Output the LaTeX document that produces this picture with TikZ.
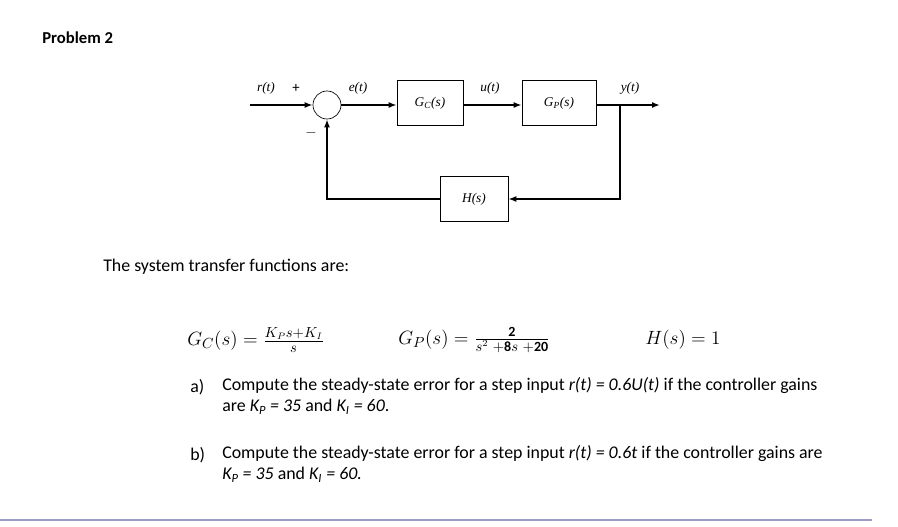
\documentclass[tikz,border=0pt]{standalone}
\usepackage{fontspec}
\setmainfont{Carlito}
\newfontfamily\dgfont{Liberation Serif}
\usetikzlibrary{arrows.meta}
\begin{document}
\begin{tikzpicture}[x=0.75pt,y=-0.75pt,
  blk/.style={draw,line width=0.5pt,minimum width=#1*0.75pt,minimum height=34pt,font=\dgfont\fontsize{10}{10}\selectfont\itshape,inner sep=0pt},
  sig/.style={line width=1.3pt,-{Latex[length=6pt,width=4.5pt]}},
  lbl/.style={font=\dgfont\fontsize{10}{10}\selectfont\itshape,inner sep=0pt},
  txt/.style={font=\fontsize{13.4}{16}\selectfont,anchor=west,inner sep=0pt,align=left}]
\useasboundingbox (0,0) rectangle (898,526);
\node[txt,font=\fontsize{12.5}{15}\selectfont\bfseries] (title) at (42,38) {Problem 2};
\node[draw,circle,minimum size=21pt,inner sep=0pt,line width=0.5pt] (sum) at (327,105) {};
\coordinate (in) at (250,105);
\node[blk=66] (gc) at (430,103) {G\textsubscript{C}(s)};
\node[blk=74] (gp) at (559,103) {G\textsubscript{P}(s)};
\node[blk=68] (h) at (474,199) {H(s)};
\coordinate (br) at (620,105);
\coordinate (out) at (660,105);
\draw[sig] (in) -- (sum);
\draw[sig] (sum) -- (sum -| gc.west);
\draw[sig] (gc.east |- sum) -- (gp.west |- sum);
\draw[sig] (gp.east |- sum) -- (out);
\draw[sig] (br) |- (h.east);
\draw[sig] (h.west) -| (sum.south);
\node[lbl] (r) at (266,88) {r(t)};
\node[lbl,font=\fontsize{11}{11}\selectfont] (p) at (296,88) {+};
\node[lbl] (e) at (358,88) {e(t)};
\node[lbl] (u) at (490,88) {u(t)};
\node[lbl] (y) at (630,88) {y(t)};
\node[lbl,font=\fontsize{11}{11}\selectfont] (m) at (311,133) {$-$};
\node[txt] (intro) at (103,267) {The system transfer functions are:};
\node[txt,font=\fontsize{15}{18}\selectfont] (eq1) at (187,340) {$G_C(s) = \frac{K_P s + K_I}{s}$};
\node[txt,font=\fontsize{15}{18}\selectfont] (eq2) at (398,340) {$G_P(s) = \frac{\mathbf{2}}{s^2\ \mathbf{+8}s\ \mathbf{+20}}$};
\node[txt,font=\fontsize{15}{18}\selectfont] (eq3) at (645,340) {$H(s) = 1$};
\node[txt] (a) at (190,387) {a)};
\node[txt,anchor=north west] (at) at (222,377) {Compute the steady-state error for a step input \textit{r(t) = 0.6U(t)} if the controller gains\\are \textit{K\textsubscript{P} = 35} and \textit{K\textsubscript{I} = 60}.};
\node[txt] (b) at (190,455) {b)};
\node[txt,anchor=north west] (bt) at (222,445) {Compute the steady-state error for a step input \textit{r(t) = 0.6t} if the controller gains are\\\textit{K\textsubscript{P} = 35} and \textit{K\textsubscript{I} = 60.}};
\draw[line width=1pt,color=blue!30!gray!60] (0,520) -- (872,520);
\end{tikzpicture}
\end{document}
